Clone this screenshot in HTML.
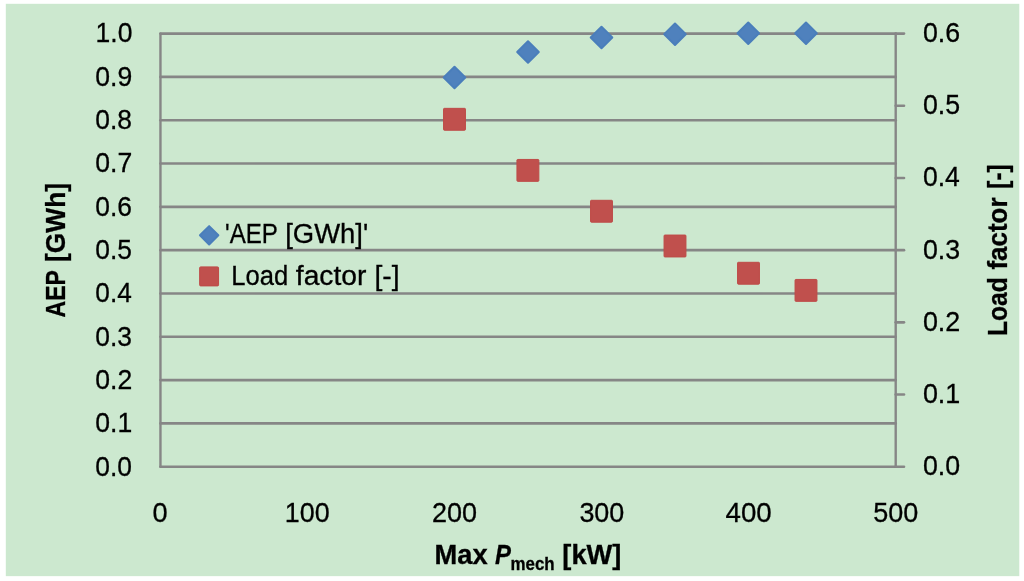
<!DOCTYPE html>
<html lang="en"><head><meta charset="utf-8"><title>AEP and load factor vs Max Pmech</title>
<style>html,body{margin:0;padding:0;background:#fff;}body{width:1024px;height:581px;overflow:hidden;}svg{display:block;font-family:"Liberation Sans",sans-serif;fill:#000;}</style></head><body>
<svg width="1024" height="581" viewBox="0 0 1024 581">
<rect x="0" y="0" width="1024" height="581" fill="#ffffff"/>
<rect x="5.8" y="3.8" width="1013.5" height="572.35" fill="#cce8cf"/>
<g stroke="#868686" stroke-width="2.6" fill="none" stroke-linecap="round">
<line x1="160.45" y1="466.70" x2="895.70" y2="466.70"/>
<line x1="160.45" y1="423.39" x2="895.70" y2="423.39"/>
<line x1="160.45" y1="380.08" x2="895.70" y2="380.08"/>
<line x1="160.45" y1="336.77" x2="895.70" y2="336.77"/>
<line x1="160.45" y1="293.46" x2="895.70" y2="293.46"/>
<line x1="160.45" y1="250.15" x2="895.70" y2="250.15"/>
<line x1="160.45" y1="206.84" x2="895.70" y2="206.84"/>
<line x1="160.45" y1="163.53" x2="895.70" y2="163.53"/>
<line x1="160.45" y1="120.22" x2="895.70" y2="120.22"/>
<line x1="160.45" y1="76.91" x2="895.70" y2="76.91"/>
<line x1="160.45" y1="33.60" x2="895.70" y2="33.60"/>
<line x1="895.70" y1="466.70" x2="904.00" y2="466.70"/>
<line x1="895.70" y1="394.52" x2="904.00" y2="394.52"/>
<line x1="895.70" y1="322.33" x2="904.00" y2="322.33"/>
<line x1="895.70" y1="250.15" x2="904.00" y2="250.15"/>
<line x1="895.70" y1="177.97" x2="904.00" y2="177.97"/>
<line x1="895.70" y1="105.78" x2="904.00" y2="105.78"/>
<line x1="895.70" y1="33.60" x2="904.00" y2="33.60"/>
</g>
<g stroke="#868686" stroke-width="2.4" fill="none" stroke-linecap="round">
<line x1="160.45" y1="33.60" x2="160.45" y2="466.70"/>
<line x1="895.70" y1="33.60" x2="895.70" y2="466.70"/>
</g>
<g fill="#4f81bd" stroke="#4a7ebb" stroke-width="2" stroke-linejoin="round">
<path d="M454.50 66.70L465.30 77.50L454.50 88.30L443.70 77.50Z"/>
<path d="M528.00 41.20L538.80 52.00L528.00 62.80L517.20 52.00Z"/>
<path d="M601.50 26.70L612.30 37.50L601.50 48.30L590.70 37.50Z"/>
<path d="M675.00 23.45L685.80 34.25L675.00 45.05L664.20 34.25Z"/>
<path d="M748.25 22.45L759.05 33.25L748.25 44.05L737.45 33.25Z"/>
<path d="M806.00 22.45L816.80 33.25L806.00 44.05L795.20 33.25Z"/>
<path d="M209.15 226.1L218.35 235.3L209.15 244.5L199.95 235.3Z"/>
</g>
<g fill="#c0504d" stroke="#be4b48" stroke-width="1" stroke-linejoin="round">
<rect x="443.55" y="108.35" width="21.9" height="21.9" rx="0.8"/>
<rect x="516.95" y="159.45" width="21.9" height="21.9" rx="0.8"/>
<rect x="590.55" y="200.30" width="21.9" height="21.9" rx="0.8"/>
<rect x="664.05" y="235.05" width="21.9" height="21.9" rx="0.8"/>
<rect x="737.55" y="262.30" width="21.9" height="21.9" rx="0.8"/>
<rect x="795.05" y="279.45" width="21.9" height="21.9" rx="0.8"/>
<rect x="199.65" y="266.9" width="18.9" height="19" rx="1"/>
</g>
<text stroke="#000" stroke-width="0.3"><tspan x="225.10" y="243.35" font-size="26.8px" textLength="52.85" lengthAdjust="spacingAndGlyphs">&#39;AEP</tspan> <tspan x="285.20" y="243.35" font-size="26.8px" textLength="83.03" lengthAdjust="spacingAndGlyphs">[GWh]&#39;</tspan></text>
<text stroke="#000" stroke-width="0.3"><tspan x="231.20" y="284.90" font-size="26.8px" textLength="56.94" lengthAdjust="spacingAndGlyphs">Load</tspan> <tspan x="295.82" y="284.90" font-size="26.8px" textLength="70.64" lengthAdjust="spacingAndGlyphs">factor</tspan> <tspan x="374.49" y="284.90" font-size="26.8px" textLength="25.20" lengthAdjust="spacingAndGlyphs">[-]</tspan></text>
<text stroke="#000" stroke-width="0.3"><tspan x="95.31" y="475.50" font-size="28.2px" textLength="36.70" lengthAdjust="spacingAndGlyphs">0.0</tspan></text>
<text stroke="#000" stroke-width="0.3"><tspan x="95.31" y="432.19" font-size="28.2px" textLength="36.95" lengthAdjust="spacingAndGlyphs">0.1</tspan></text>
<text stroke="#000" stroke-width="0.3"><tspan x="95.31" y="388.88" font-size="28.2px" textLength="36.95" lengthAdjust="spacingAndGlyphs">0.2</tspan></text>
<text stroke="#000" stroke-width="0.3"><tspan x="95.31" y="345.57" font-size="28.2px" textLength="36.70" lengthAdjust="spacingAndGlyphs">0.3</tspan></text>
<text stroke="#000" stroke-width="0.3"><tspan x="95.32" y="302.26" font-size="28.2px" textLength="36.45" lengthAdjust="spacingAndGlyphs">0.4</tspan></text>
<text stroke="#000" stroke-width="0.3"><tspan x="95.31" y="258.95" font-size="28.2px" textLength="36.70" lengthAdjust="spacingAndGlyphs">0.5</tspan></text>
<text stroke="#000" stroke-width="0.3"><tspan x="95.31" y="215.64" font-size="28.2px" textLength="36.70" lengthAdjust="spacingAndGlyphs">0.6</tspan></text>
<text stroke="#000" stroke-width="0.3"><tspan x="95.31" y="172.33" font-size="28.2px" textLength="36.95" lengthAdjust="spacingAndGlyphs">0.7</tspan></text>
<text stroke="#000" stroke-width="0.3"><tspan x="95.31" y="129.02" font-size="28.2px" textLength="36.70" lengthAdjust="spacingAndGlyphs">0.8</tspan></text>
<text stroke="#000" stroke-width="0.3"><tspan x="95.31" y="85.71" font-size="28.2px" textLength="36.95" lengthAdjust="spacingAndGlyphs">0.9</tspan></text>
<text stroke="#000" stroke-width="0.3"><tspan x="95.54" y="42.40" font-size="28.2px" textLength="36.83" lengthAdjust="spacingAndGlyphs">1.0</tspan></text>
<text stroke="#000" stroke-width="0.3"><tspan x="922.90" y="475.10" font-size="28.2px" textLength="37.18" lengthAdjust="spacingAndGlyphs">0.0</tspan></text>
<text stroke="#000" stroke-width="0.3"><tspan x="922.89" y="402.92" font-size="28.2px" textLength="37.43" lengthAdjust="spacingAndGlyphs">0.1</tspan></text>
<text stroke="#000" stroke-width="0.3"><tspan x="922.89" y="330.73" font-size="28.2px" textLength="37.43" lengthAdjust="spacingAndGlyphs">0.2</tspan></text>
<text stroke="#000" stroke-width="0.3"><tspan x="922.90" y="258.55" font-size="28.2px" textLength="37.18" lengthAdjust="spacingAndGlyphs">0.3</tspan></text>
<text stroke="#000" stroke-width="0.3"><tspan x="922.91" y="186.37" font-size="28.2px" textLength="36.93" lengthAdjust="spacingAndGlyphs">0.4</tspan></text>
<text stroke="#000" stroke-width="0.3"><tspan x="922.90" y="114.18" font-size="28.2px" textLength="37.18" lengthAdjust="spacingAndGlyphs">0.5</tspan></text>
<text stroke="#000" stroke-width="0.3"><tspan x="922.90" y="42.00" font-size="28.2px" textLength="37.18" lengthAdjust="spacingAndGlyphs">0.6</tspan></text>
<text stroke="#000" stroke-width="0.3"><tspan x="152.49" y="522.20" font-size="28.4px" textLength="15.11" lengthAdjust="spacingAndGlyphs">0</tspan></text>
<text stroke="#000" stroke-width="0.3"><tspan x="284.78" y="522.20" font-size="28.4px" textLength="44.83" lengthAdjust="spacingAndGlyphs">100</tspan></text>
<text stroke="#000" stroke-width="0.3"><tspan x="431.92" y="522.20" font-size="28.4px" textLength="45.10" lengthAdjust="spacingAndGlyphs">200</tspan></text>
<text stroke="#000" stroke-width="0.3"><tspan x="579.40" y="522.20" font-size="28.4px" textLength="44.91" lengthAdjust="spacingAndGlyphs">300</tspan></text>
<text stroke="#000" stroke-width="0.3"><tspan x="725.52" y="522.20" font-size="28.4px" textLength="46.23" lengthAdjust="spacingAndGlyphs">400</tspan></text>
<text stroke="#000" stroke-width="0.3"><tspan x="873.16" y="522.20" font-size="28.4px" textLength="45.06" lengthAdjust="spacingAndGlyphs">500</tspan></text>
<text stroke="#000" stroke-width="0.3" font-weight="bold" transform="rotate(-90)"><tspan x="-317.47" y="65.45" font-size="27.6px" textLength="47.26" lengthAdjust="spacingAndGlyphs">AEP</tspan> <tspan x="-261.98" y="65.45" font-size="27.6px" textLength="79.07" lengthAdjust="spacingAndGlyphs">[GWh]</tspan></text>
<text stroke="#000" stroke-width="0.3" font-weight="bold" transform="rotate(-90)"><tspan x="-336.11" y="1006.90" font-size="27.6px" textLength="58.88" lengthAdjust="spacingAndGlyphs">Load</tspan> <tspan x="-269.62" y="1006.90" font-size="27.6px" textLength="72.17" lengthAdjust="spacingAndGlyphs">factor</tspan> <tspan x="-188.67" y="1006.90" font-size="27.6px" textLength="24.20" lengthAdjust="spacingAndGlyphs">[-]</tspan></text>
<text stroke="#000" stroke-width="0.3" font-weight="bold"><tspan x="434.62" y="563.60" font-size="27.6px" textLength="53.17" lengthAdjust="spacingAndGlyphs">Max</tspan> <tspan x="494.92" y="563.60" font-size="27.6px" font-style="italic" textLength="15.95" lengthAdjust="spacingAndGlyphs">P</tspan><tspan x="510.48" y="570.40" font-size="18.0px" textLength="44.14" lengthAdjust="spacingAndGlyphs">mech</tspan> <tspan x="562.32" y="563.60" font-size="27.6px" textLength="59.04" lengthAdjust="spacingAndGlyphs">[kW]</tspan></text>
</svg></body></html>
